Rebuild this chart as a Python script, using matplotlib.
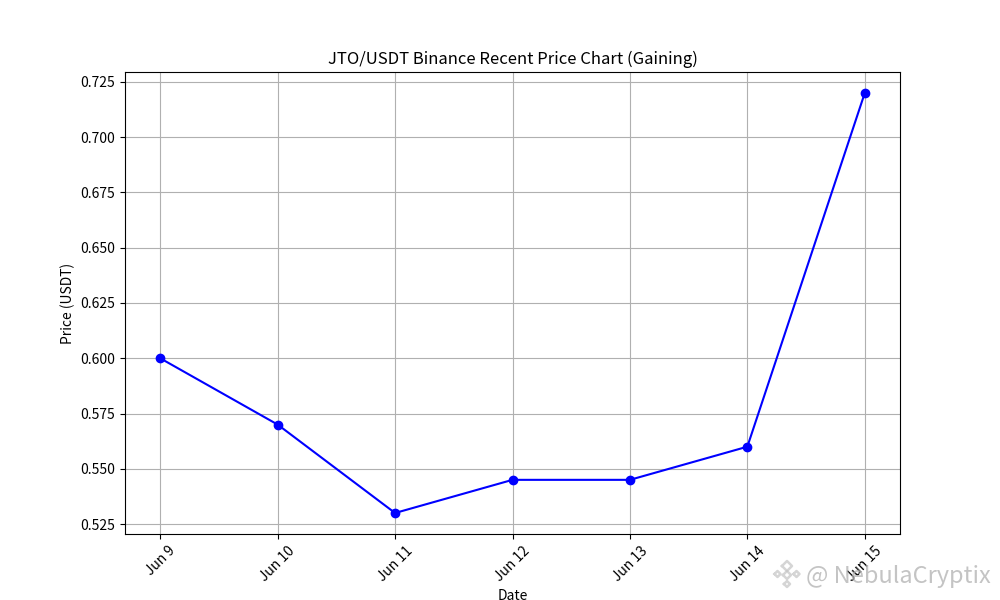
import matplotlib
matplotlib.use("Agg")
import matplotlib.pyplot as plt

plt.rcParams['font.family'] = ['Noto Sans CJK SC', 'DejaVu Sans']

dates = ["Jun 9", "Jun 10", "Jun 11", "Jun 12", "Jun 13", "Jun 14", "Jun 15"]
prices = [0.600, 0.570, 0.530, 0.545, 0.545, 0.560, 0.720]
yticks = [0.525, 0.550, 0.575, 0.600, 0.625, 0.650, 0.675, 0.700, 0.725]

fig, ax = plt.subplots(figsize=(10, 6), dpi=100)
ax.plot(dates, prices, marker='o', linestyle='-', color='blue')
ax.set_title("JTO/USDT Binance Recent Price Chart (Gaining)")
ax.set_xlabel("Date")
ax.set_ylabel("Price (USDT)")
ax.set_yticks(yticks)
ax.set_yticklabels([f"{v:.3f}" for v in yticks])
ax.tick_params(axis='x', rotation=45)
ax.grid(True)
fig.subplots_adjust(left=0.125, right=0.9, top=0.88, bottom=0.11)

# Watermark: logo made of small diamonds, then the handle
logo_x, logo_y = 787 / 1000, 1 - 574 / 600
for dx, dy, r in [(0, -1, 4), (-9.5, 0, 3), (9.5, 0, 3), (0, 8, 5), (0, -10, 3)]:
    fig.add_artist(plt.Line2D(
        [logo_x + (dx - r) / 1000, logo_x + dx / 1000, logo_x + (dx + r) / 1000,
         logo_x + dx / 1000, logo_x + (dx - r) / 1000],
        [logo_y + dy / 600, logo_y + (dy + r) / 600, logo_y + dy / 600,
         logo_y + (dy - r) / 600, logo_y + dy / 600],
        transform=fig.transFigure, color='#c4c4c4', lw=1.8, alpha=0.7))
fig.text(0.806, 0.040, "@ NebulaCryptix", fontsize=17.0, color='#b0b0b0', alpha=0.75,
         va='center', ha='left')
fig.savefig("out.png", dpi=100)
